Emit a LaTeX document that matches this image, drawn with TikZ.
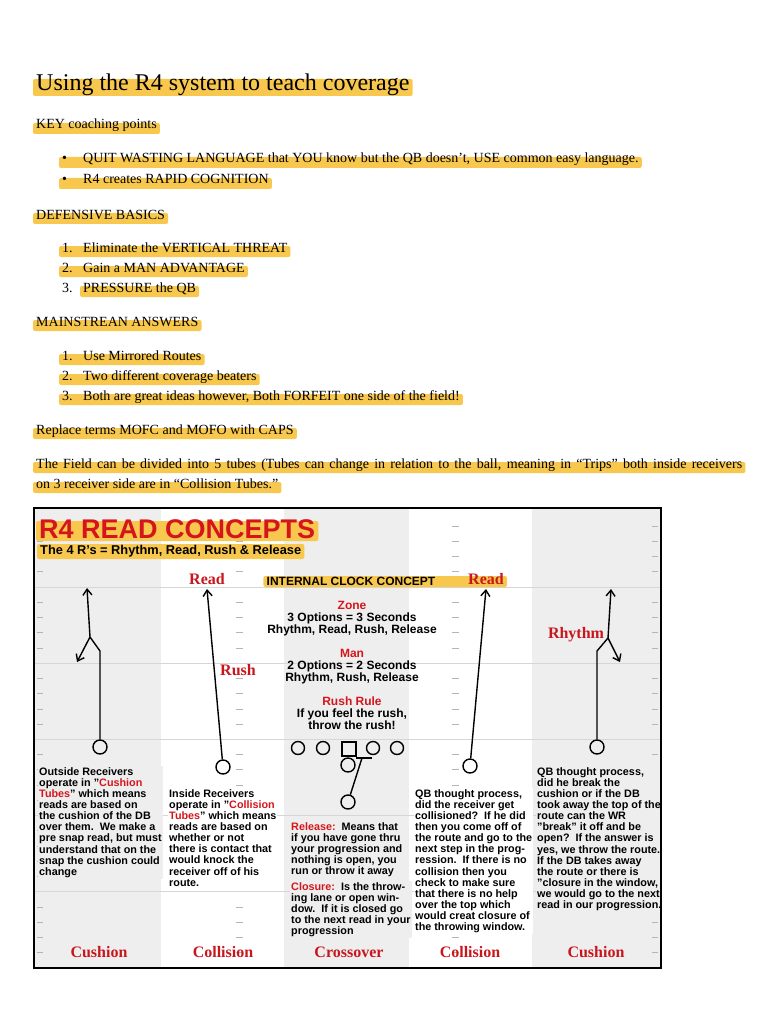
\documentclass[tikz,border=0pt]{standalone}
\usepackage{fontspec}
\setmainfont{Liberation Serif}
\setsansfont{Liberation Sans}
\usetikzlibrary{arrows.meta}

\definecolor{hlyellow}{HTML}{F8C84E}
\definecolor{fieldgray}{HTML}{EEEEEE}
\definecolor{yardgray}{HTML}{D6D6D6}
\definecolor{hashgray}{HTML}{B5B5B5}
\definecolor{r4red}{HTML}{D4161C}
\definecolor{callred}{HTML}{C8161D}

\pgfdeclarelayer{field}
\pgfdeclarelayer{marker}
\pgfsetlayers{field,marker,main}

\newcommand{\hlspan}[4]{\fill[hl] ([xshift=-3pt,yshift=#3]#1.base west) rectangle ([xshift=3pt,yshift=-#4]#2.base east);}

\begin{document}
\begin{tikzpicture}[x=1pt, y=-1pt,
  pagetext/.style={anchor=base west, inner sep=0pt, font=\fontsize{14}{16}\selectfont},
  pagetitle/.style={pagetext, font=\fontsize{24}{28}\selectfont},
  hl/.style={fill=hlyellow, rounded corners=2pt},
  tube/.style={fill=fieldgray},
  yard/.style={draw=yardgray, line width=0.8pt},
  hash/.style={draw=hashgray, line width=0.8pt},
  r4head/.style={anchor=base west, inner sep=0pt, text=r4red, font=\sffamily\bfseries\fontsize{27}{30}\selectfont},
  r4sub/.style={anchor=base west, inner sep=0pt, font=\sffamily\bfseries\fontsize{12.8}{14}\selectfont},
  clocktext/.style={anchor=base, align=center, inner sep=0pt, font=\sffamily\bfseries\fontsize{12}{12.2}\selectfont},
  redword/.style={anchor=base, inner sep=0pt, text=callred, font=\bfseries\fontsize{16}{18}\selectfont},
  notes/.style={anchor=base west, align=left, inner sep=1pt, font=\sffamily\bfseries\fontsize{10.8}{11.15}\selectfont},
  player/.style={circle, draw, line width=1.4pt, minimum size=14pt, inner sep=0pt},
  snapbox/.style={rectangle, draw, line width=1.4pt, minimum size=14pt, inner sep=0pt},
  routeline/.style={line width=1.4pt, line join=round},
  route/.style={routeline, -{Straight Barb[length=6pt,width=9pt,line width=1.4pt]}}]

\useasboundingbox (0,0) rectangle (768,1024);

% page text
\node[pagetitle] (title) at (36,91) {Using the R4 system to teach coverage};
\node[pagetext] (key) at (36,129) {KEY coaching points};
\node[pagetext] (b1dot) at (62,163) {\textbullet};
\node[pagetext] (b1) at (83,163) {QUIT WASTING LANGUAGE that YOU know but the QB doesn’t, USE common easy language.};
\node[pagetext] (b2dot) at (62,184) {\textbullet};
\node[pagetext] (b2) at (83,184) {R4 creates RAPID COGNITION};
\node[pagetext] (basics) at (36,219) {DEFENSIVE BASICS};
\node[pagetext] (d1n) at (62,252) {1.};
\node[pagetext] (d1) at (83,252) {Eliminate the VERTICAL THREAT};
\node[pagetext] (d2n) at (62,272) {2.};
\node[pagetext] (d2) at (83,272) {Gain a MAN ADVANTAGE};
\node[pagetext] (d3n) at (62,292) {3.};
\node[pagetext] (d3) at (83,292) {PRESSURE the QB};
\node[pagetext] (answers) at (36,326) {MAINSTREAN ANSWERS};
\node[pagetext] (m1n) at (62,360) {1.};
\node[pagetext] (m1) at (83,360) {Use Mirrored Routes};
\node[pagetext] (m2n) at (62,380) {2.};
\node[pagetext] (m2) at (83,380) {Two different coverage beaters};
\node[pagetext] (m3n) at (62,400) {3.};
\node[pagetext] (m3) at (83,400) {Both are great ideas however, Both FORFEIT one side of the field!};
\node[pagetext] (caps) at (36,434) {Replace terms MOFC and MOFO with CAPS};
\node[pagetext] (tubes1) at (36,468) {\makebox[706pt][s]{The Field can be divided into 5 tubes (Tubes can change in relation to the ball, meaning in “Trips” both inside receivers}};
\node[pagetext] (tubes2) at (36,488) {on 3 receiver side are in “Collision Tubes.”};

% field
\begin{pgfonlayer}{field}
  \fill[tube] (34,508) rectangle (161,968);
  \fill[tube] (284,508) rectangle (409,968);
  \fill[tube] (532,508) rectangle (661,968);
  \foreach \y in {587,663.2,739.4,815.6,891.8}
    \draw[yard] (34,\y) -- (661,\y);
  \foreach \k in {0,...,5}
    \foreach \i in {1,...,4}{
      \pgfmathsetmacro\hy{510.8+76.2*\k+15.24*\i}
      \draw[hash] (37,\hy) -- (43,\hy) (236,\hy) -- (243,\hy) (452,\hy) -- (459,\hy) (652,\hy) -- (658,\hy);
    }
\end{pgfonlayer}

\node[r4head] (r4) at (39,538) {R4 READ CONCEPTS};
\node[r4sub] (fourr) at (40,554) {The 4 R's = Rhythm, Read, Rush \& Release};
\node[clocktext] (clock) at (351,585) {INTERNAL CLOCK CONCEPT};
\node[redword] (readL) at (207,584) {Read};
\node[redword] (readR) at (486,584) {Read};
\node[redword] (rush) at (238,675) {Rush};
\node[redword] (rhythm) at (576,638) {Rhythm};

% multi-line nodes sit on the baseline of their last line
\node[clocktext] (zone) at (352,633.4) {\textcolor{r4red}{Zone}\\3 Options = 3 Seconds\\Rhythm, Read, Rush, Release};
\node[clocktext] (man) at (352,681.4) {\textcolor{r4red}{Man}\\2 Options = 2 Seconds\\Rhythm, Rush, Release};
\node[clocktext] (rushrule) at (352,729.6) {\textcolor{r4red}{Rush Rule}\\If you feel the rush,\\throw the rush!};

% receivers and routes
\node[player] (wrL) at (100,747) {};
\coordinate (wrLbend) at (100,651);
\coordinate (wrLsplit) at (90,637);
\coordinate (wrLgo) at (87,588);
\coordinate (wrLout) at (77,662);
\draw[route] (wrL) -- (wrLbend) -- (wrLsplit) -- (wrLgo);
\draw[route] (wrLsplit) -- (wrLout);

\node[player] (slotL) at (223,767) {};
\coordinate (slotLgo) at (207,589);
\draw[route] (slotL) -- (slotLgo);

\node[player] (slotR) at (470,766) {};
\coordinate (slotRgo) at (486,589);
\draw[route] (slotR) -- (slotRgo);

\node[player] (wrR) at (597,747) {};
\coordinate (wrRbend) at (597,651);
\coordinate (wrRsplit) at (608,638);
\coordinate (wrRgo) at (611,589);
\coordinate (wrRout) at (620,662);
\draw[route] (wrR) -- (wrRbend) -- (wrRsplit) -- (wrRgo);
\draw[route] (wrRsplit) -- (wrRout);

% line and backfield
\node[player, minimum size=13pt] (lt) at (298,748) {};
\node[player, minimum size=13pt] (lg) at (323,748) {};
\node[snapbox] (ctr) at (349,749) {};
\node[player, minimum size=13pt] (rg) at (373,748) {};
\node[player, minimum size=13pt] (rt) at (397,748) {};
\node[player] (qb) at (348,765) {};
\node[player] (rb) at (348,802) {};
\coordinate (snapW) at (356,758);
\coordinate (snapK) at (362,758);
\coordinate (snapE) at (372,758);
\draw[routeline] (snapW) -- (snapE);
\draw[routeline] (snapK) -- (rb);

% notes
\node[notes, fill=fieldgray] (cushionnote) at (38,875.4) {Outside Receivers\\operate in "\textcolor{r4red}{Cushion}\\\textcolor{r4red}{Tubes}" which means\\reads are based on\\the cushion of the DB\\over them.\ \ We make a\\pre snap read, but must\\understand that on the\\snap the cushion could\\change};
\node[notes, fill=white] (collisionnote) at (168,886.2) {Inside Receivers\\operate in "\textcolor{r4red}{Collision}\\\textcolor{r4red}{Tubes}" which means\\reads are based on\\whether or not\\there is contact that\\would knock the\\receiver off of his\\route.};
\node[notes, fill=fieldgray] (releasenote) at (290,874.6) {\textcolor{r4red}{Release:}\ \ Means that\\if you have gone thru\\your progression and\\nothing is open, you\\run or throw it away};
\node[notes, fill=fieldgray] (closurenote) at (290,934.6) {\textcolor{r4red}{Closure:}\ \ Is the throw-\\ing lane or open win-\\dow.\ \ If it is closed go\\to the next read in your\\progression};
\node[notes, fill=white] (qbcollision) at (414,930.8) {QB thought process,\\did the receiver get\\collisioned?\ \ If he did\\then you come off of\\the route and go to the\\next step in the prog-\\ression.\ \ If there is no\\collision then you\\check to make sure\\that there is no help\\over the top which\\would creat closure of\\the throwing window.};
\node[notes, fill=fieldgray] (qbcushion) at (536,908.8) {QB thought process,\\did he break the\\cushion or if the DB\\took away the top of the\\route can the WR\\"break" it off and be\\open?\ \ If the answer is\\yes, we throw the route.\\If the DB takes away\\the route or there is\\"closure in the window,\\we would go to the next\\read in our progression.};

% tube names
\node[redword] (tubeA) at (99,957) {Cushion};
\node[redword] (tubeB) at (223,957) {Collision};
\node[redword] (tubeC) at (349,957) {Crossover};
\node[redword] (tubeD) at (470,957) {Collision};
\node[redword] (tubeE) at (596,957) {Cushion};

\draw[line width=2.5pt] (34,508) rectangle (661,968);

% highlighter
\begin{pgfonlayer}{marker}
  \hlspan{title}{title}{12pt}{5pt}
  \hlspan{key}{key}{6pt}{5pt}
  \hlspan{b1dot}{b1}{6pt}{5pt}
  \hlspan{b2dot}{b2}{6pt}{5pt}
  \hlspan{basics}{basics}{6pt}{5pt}
  \hlspan{d1n}{d1}{6pt}{5pt}
  \hlspan{d2n}{d2}{6pt}{5pt}
  \hlspan{d3}{d3}{6pt}{5pt}
  \hlspan{answers}{answers}{6pt}{5pt}
  \hlspan{m1n}{m1}{6pt}{5pt}
  \hlspan{m2n}{m2}{6pt}{5pt}
  \hlspan{m3n}{m3}{6pt}{5pt}
  \hlspan{caps}{caps}{6pt}{5pt}
  \hlspan{tubes1}{tubes1}{6pt}{5pt}
  \hlspan{tubes2}{tubes2}{6pt}{5pt}
  \hlspan{r4}{r4}{17pt}{3pt}
  \hlspan{fourr}{fourr}{10pt}{5pt}
  \hlspan{clock}{readR}{9pt}{3pt}
\end{pgfonlayer}
\end{tikzpicture}
\end{document}
